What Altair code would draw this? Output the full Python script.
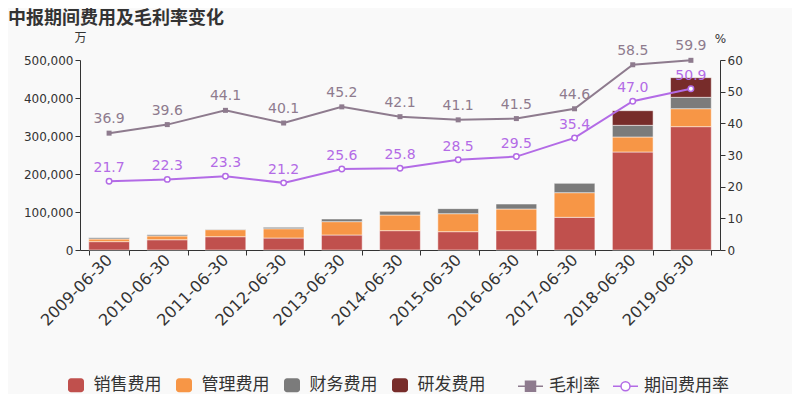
import altair as alt
import pandas as pd

dates = ["2009-06-30", "2010-06-30", "2011-06-30", "2012-06-30", "2013-06-30", "2014-06-30",
         "2015-06-30", "2016-06-30", "2017-06-30", "2018-06-30", "2019-06-30"]
sales = [22000, 27000, 35000, 31500, 39500, 50900, 48200, 50900, 86000, 257900, 324600]
mgmt = [7000, 10000, 18500, 24500, 35100, 41200, 47400, 57000, 64900, 39500, 47300]
fin = [3000, 3000, 1000, 3700, 7000, 9700, 13200, 13100, 24500, 30700, 29900]
rd = [0, 0, 0, 0, 0, 0, 0, 0, 0, 38500, 51700]
gross_margin = [36.9, 39.6, 44.1, 40.1, 45.2, 42.1, 41.1, 41.5, 44.6, 58.5, 59.9]
expense_rate = [21.7, 22.3, 23.3, 21.2, 25.6, 25.8, 28.5, 29.5, 35.4, 47.0, 50.9]

cost_names = ["销售费用", "管理费用", "财务费用", "研发费用"]
cost_colors = ["#c0504d", "#f79646", "#7b7b7b", "#772c2a"]
rate_names = ["毛利率", "期间费用率"]
GM = "#8e7b8e"
EXP = "#b36be6"

rows = []
for i, d in enumerate(dates):
    for k, (name, series) in enumerate(zip(cost_names, [sales, mgmt, fin, rd])):
        if series[i] > 0:
            rows.append({"date": d, "type": name, "value": series[i], "order": k})
bars_df = pd.DataFrame(rows)

rrows = []
for i, d in enumerate(dates):
    rrows.append({"date": d, "series": rate_names[0], "rate": gross_margin[i]})
    rrows.append({"date": d, "series": rate_names[1], "rate": expense_rate[i]})
rate_df = pd.DataFrame(rrows)

FONT = "DejaVu Sans, Noto Sans CJK SC"
AX = "#333333"

x = alt.X(
    "date:N", sort=dates,
    scale=alt.Scale(paddingInner=0.3, paddingOuter=0.15),
    axis=alt.Axis(title=None, labelAngle=-45, labelAlign="right", labelBaseline="middle",
                  labelFontSize=16, labelColor=AX, tickBand="extent", domainColor=AX,
                  tickColor=AX, tickSize=5, labelPadding=2, grid=False),
)

rect_path = ("M-0.4,-0.56H0.4A0.24,0.24,0,0,1,0.64,-0.32V0.32A0.24,0.24,0,0,1,0.4,0.56"
             "H-0.4A0.24,0.24,0,0,1,-0.64,0.32V-0.32A0.24,0.24,0,0,1,-0.4,-0.56Z")
gm_path = "M-1,0H-0.4M0.4,0H1M-0.4,-0.4H0.4V0.4H-0.4Z"
exp_path = ("M-1,0H-0.36M0.36,0H1M0.36,0A0.36,0.36,0,1,1,-0.36,0"
            "A0.36,0.36,0,1,1,0.36,0Z")

bars = alt.Chart(bars_df).mark_bar(stroke="#ffffff", strokeOpacity=0.5, strokeWidth=1).encode(
    x=x,
    y=alt.Y("value:Q", stack="zero", scale=alt.Scale(domain=[0, 500000]),
            axis=alt.Axis(title="万", titleAngle=0, titleAlign="center", titleX=0, titleY=-16,
                          titleFontSize=12, titleFontWeight="normal", titleColor=AX,
                          format=",.0f", values=[0, 100000, 200000, 300000, 400000, 500000],
                          labelFontSize=12, labelColor=AX, domainColor=AX, tickColor=AX,
                          tickSize=5, grid=False)),
    color=alt.Color("type:N", scale=alt.Scale(domain=cost_names, range=cost_colors),
                    legend=alt.Legend(title=None, orient="none", legendX=-16.5, legendY=312.5,
                                      direction="horizontal", symbolType=rect_path,
                                      symbolSize=625, symbolStrokeWidth=0, labelFontSize=17,
                                      labelOffset=5, columnPadding=10, padding=0,
                                      labelColor=AX)),
    order=alt.Order("order:Q", sort="ascending"),
)

y_rate = alt.Y("rate:Q", scale=alt.Scale(domain=[0, 60]),
               axis=alt.Axis(orient="right", title="%", titleAngle=0, titleAlign="center",
                             titleX=0, titleY=-15, titleFontSize=12, titleFontWeight="normal",
                             titleColor=AX, values=[0, 10, 20, 30, 40, 50, 60],
                             labelFontSize=12, labelColor=AX, domainColor=AX, tickColor=AX,
                             tickSize=5, grid=False))

base = alt.Chart(rate_df).encode(x=x, y=y_rate)
gm_f = "datum.series == '毛利率'"
ex_f = "datum.series == '期间费用率'"

gm_line = base.transform_filter(gm_f).mark_line(color=GM, strokeWidth=2)
ex_line = base.transform_filter(ex_f).mark_line(color=EXP, strokeWidth=2)
gm_pts = base.transform_filter(gm_f).mark_point(shape="square", filled=True, size=25, color=GM, opacity=1)
ex_pts = base.transform_filter(ex_f).mark_point(shape="circle", filled=True, size=30, fill="#ffffff",
                                                 stroke=EXP, strokeWidth=1.5, opacity=1)
gm_txt = base.transform_filter(gm_f).mark_text(dy=-10, baseline="alphabetic", fontSize=14, color=GM).encode(
    text=alt.Text("rate:Q", format=".1f"))
ex_txt = base.transform_filter(ex_f).mark_text(dy=-9, baseline="alphabetic", fontSize=14, color=EXP).encode(
    text=alt.Text("rate:Q", format=".1f"))

leg = dict(title=None, orient="none", legendX=437, legendY=312.5, direction="horizontal",
           symbolSize=625, symbolStrokeWidth=1.5, labelFontSize=17, labelOffset=5,
           columnPadding=10, padding=0, labelColor=AX, symbolOpacity=1)
legend_layer = base.transform_filter("datum.rate < 0").mark_point(filled=True, opacity=1).encode(
    shape=alt.Shape("series:N", scale=alt.Scale(domain=rate_names, range=[gm_path, exp_path]),
                    legend=alt.Legend(**leg)),
    fill=alt.Fill("series:N", scale=alt.Scale(domain=rate_names, range=[GM, "#ffffff"]),
                  legend=alt.Legend(**leg)),
    stroke=alt.Stroke("series:N", scale=alt.Scale(domain=rate_names, range=[GM, EXP]),
                      legend=alt.Legend(**leg)),
)

rates = alt.layer(gm_line, ex_line, gm_pts, ex_pts, gm_txt, ex_txt, legend_layer)

chart = alt.layer(bars, rates).resolve_scale(y="independent").properties(
    width=640, height=190,
    autosize=alt.AutoSizeParams(type="none"),
    padding={"left": 72, "top": 52, "right": 72, "bottom": 144},
    background="#f9f9f9",
    title=alt.Title("中报期间费用及毛利率变化", anchor="start", frame="group", fontSize=18,
                    fontWeight="bold", color=AX, dx=-72, dy=17, offset=20),
).configure(font=FONT).configure_view(stroke=None)

chart.save("out.html", embed_options={"renderer": "svg", "actions": False})
